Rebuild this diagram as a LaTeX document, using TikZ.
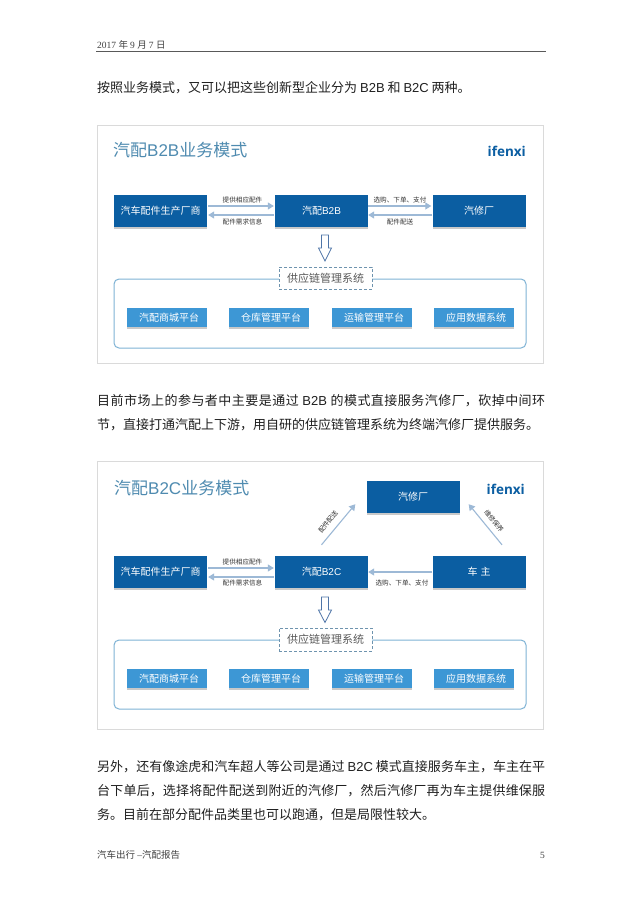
\documentclass[tikz,border=0pt]{standalone}
\usepackage{fontspec}
\usetikzlibrary{arrows.meta,calc}
\setmainfont{Noto Sans CJK SC}
\newfontfamily\lsf{Liberation Sans}
\newfontfamily\lser{Liberation Serif}
\newfontfamily\logof{Open Sans}
\XeTeXlinebreaklocale "zh"
\XeTeXlinebreakskip=0pt plus 1pt
\definecolor{bigblue}{HTML}{0B5EA2}
\definecolor{smallblue}{HTML}{3D97D5}
\definecolor{ringblue}{HTML}{7FB3D5}
\definecolor{flowblue}{HTML}{9DB9D6}
\definecolor{panelgray}{HTML}{DADADA}
\definecolor{titleblue}{HTML}{4F8BB0}
\definecolor{shade}{HTML}{C9C9C9}
\definecolor{hollow}{HTML}{4F75A8}
\definecolor{dashblue}{HTML}{6E93AE}
\tikzset{
  x=1pt,y=-1pt,
  panel/.style={draw=panelgray,line width=0.8pt,fill=white},
  bigbox/.style={fill=bigblue,text=white,minimum width=93pt,minimum height=32pt,inner sep=0pt,font=\fontsize{10}{12}\selectfont,
    preaction={fill=shade,transform canvas={yshift=-1.6pt}}},
  smallbox/.style={fill=smallblue,text=white,minimum width=80pt,minimum height=19pt,inner sep=0pt,font=\fontsize{10}{12}\selectfont,
    preaction={fill=shade,transform canvas={yshift=-1.6pt}}},
  ring/.style={draw=ringblue,line width=1pt,rounded corners=5pt},
  dashbox/.style={draw=dashblue,dash pattern=on 3pt off 2pt,fill=white,line width=0.9pt,minimum width=93pt,minimum height=22pt,inner sep=0pt,
    text=black!65,font=\fontsize{11}{13}\selectfont},
  flow/.style={draw=flowblue,line width=1.1pt,-{Triangle[length=6pt,width=7pt]}},
  lab/.style={inner sep=0pt,text=black!80,font=\fontsize{6.6}{8}\selectfont},
  title/.style={anchor=west,inner sep=0pt,text=titleblue,font=\fontsize{17}{20}\selectfont},
  logo/.style={anchor=east,inner sep=0pt,text=bigblue,font=\logof\bfseries\fontsize{13.5}{15}\selectfont},
  blockarrow/.style={draw=hollow,fill=white,line width=0.8pt,line join=miter},
  para/.style={anchor=north west,inner sep=0pt,text width=448pt,align=justify,text=black!88,font=\fontsize{13}{24}\selectfont},
  small/.style={inner sep=0pt,text=black!75,font=\fontsize{9.5}{11}\selectfont},
}
\begin{document}
\begin{tikzpicture}
\useasboundingbox[fill=white] (0,0) rectangle (640,907);
% page furniture
\node[small,anchor=west] (hdr) at (97,45) {\lser 2017 \rmfamily 年 \lser 9 \rmfamily 月 \lser 7 \rmfamily 日};
\coordinate (ruleL) at (96,52); \coordinate (ruleR) at (546,52);
\draw[black!65,line width=1pt] (ruleL) -- (ruleR);
\node[para,anchor=north west] (p1) at (97,81) {按照业务模式，又可以把这些创新型企业分为 {\lsf B2B} 和 {\lsf B2C} 两种。};
\node[para] (p2) at (97,394) {目前市场上的参与者中主要是通过 {\lsf B2B} 的模式直接服务汽修厂，砍掉中间环\linebreak 节，直接打通汽配上下游，用自研的供应链管理系统为终端汽修厂提供服务。};
\node[para] (p3) at (97,760) {另外，还有像途虎和汽车超人等公司是通过 {\lsf B2C} 模式直接服务车主，车主在平\linebreak 台下单后，选择将配件配送到附近的汽修厂，然后汽修厂再为车主提供维保服\linebreak 务。目前在部分配件品类里也可以跑通，但是局限性较大。};
\node[small,anchor=west] (ftr) at (97,855) {汽车出行 {\lser –}汽配报告};
\node[small,anchor=east] (pg) at (545,855) {\lser 5};

% ---------- B2B panel
\node[panel,minimum width=446pt,minimum height=238pt,inner sep=0pt] (pa) at (320,244) {};
\node[title] (ta) at (113,150) {汽配{\lsf B2B}业务模式};
\node[logo] (la) at (526,151) {ifenxi};
\node[bigbox] (a1) at (160.5,211) {汽车配件生产厂商};
\node[bigbox] (a2) at (321.5,211) {汽配{\lsf B2B}};
\node[bigbox] (a3) at (479,211) {汽修厂};
\draw[flow] ([yshift=5pt,xshift=1pt]a1.east) -- ([yshift=5pt,xshift=-1pt]a2.west);
\draw[flow] ([yshift=-4pt,xshift=-1pt]a2.west) -- ([yshift=-4pt,xshift=1pt]a1.east);
\draw[flow] ([yshift=5pt]a2.east) -- ([yshift=5pt,xshift=-1pt]a3.west);
\draw[flow] ([yshift=-4pt]a3.west) -- ([yshift=-4pt]a2.east);
\node[lab] (a12t) at (242.5,200) {提供相应配件};
\node[lab] (a12b) at (242.5,221.5) {配件需求信息};
\node[lab] (a23t) at (400,200) {选购、下单、支付};
\node[lab] (a23b) at (400,221.5) {配件配送};
\coordinate (da) at (325,235);
\draw[blockarrow] (da) ++(-3.5,0) -- ++(7,0) -- ++(0,13) -- ++(3,0) -- ++(-6.5,13) -- ++(-6.5,-13) -- ++(3,0) -- cycle;
\node[ring,minimum width=412pt,minimum height=69pt,inner sep=0pt] (ra) at (320,313.5) {};
\node[dashbox] (sa) at (325.5,278) {供应链管理系统};
\node[smallbox] (a4) at (167,317.5) {\hspace*{4pt}汽配商城平台};
\node[smallbox] (a5) at (269,317.5) {\hspace*{4pt}仓库管理平台};
\node[smallbox] (a6) at (372,317.5) {\hspace*{4pt}运输管理平台};
\node[smallbox] (a7) at (474,317.5) {\hspace*{4pt}应用数据系统};

% ---------- B2C panel
\node[panel,minimum width=446pt,minimum height=268pt,inner sep=0pt] (pb) at (320,595) {};
\node[title] (tb) at (114,488) {汽配{\lsf B2C}业务模式};
\node[logo] (lb) at (525,489) {ifenxi};
\node[bigbox] (b0) at (413,497) {汽修厂};
\node[bigbox] (b1) at (160.5,572) {汽车配件生产厂商};
\node[bigbox] (b2) at (321.5,572) {汽配{\lsf B2C}};
\node[bigbox] (b3) at (479,572) {车\hspace{3pt}主};
\draw[flow] ([yshift=4pt,xshift=1pt]b1.east) -- ([yshift=4pt,xshift=-1pt]b2.west);
\draw[flow] ([yshift=-5pt,xshift=-1pt]b2.west) -- ([yshift=-5pt,xshift=1pt]b1.east);
\draw[flow] (b3.west) -- (b2.east);
\draw[flow] ([yshift=11pt]b2.north) -- ([xshift=-11pt,yshift=9pt]b0.south west);
\draw[flow] ([xshift=23pt,yshift=11pt]b3.north) -- ([xshift=9pt,yshift=9pt]b0.south east);
\node[lab] (b12t) at (242.5,561.5) {提供相应配件};
\node[lab] (b12b) at (242.5,583) {配件需求信息};
\node[lab] (b23) at (402,583) {选购、下单、支付};
\node[lab,rotate=52] (bd1) at (328,522) {配件配送};
\node[lab,rotate=-52] (bd2) at (494,521) {维修保养};
\coordinate (db) at (325,597);
\draw[blockarrow] (db) ++(-3.5,0) -- ++(7,0) -- ++(0,13) -- ++(3,0) -- ++(-6.5,12.5) -- ++(-6.5,-12.5) -- ++(3,0) -- cycle;
\node[ring,minimum width=412pt,minimum height=69pt,inner sep=0pt] (rb) at (320,674.5) {};
\node[dashbox,minimum height=23pt] (sb) at (325.5,639.5) {供应链管理系统};
\node[smallbox] (b4) at (167,678.5) {\hspace*{4pt}汽配商城平台};
\node[smallbox] (b5) at (269,678.5) {\hspace*{4pt}仓库管理平台};
\node[smallbox] (b6) at (372,678.5) {\hspace*{4pt}运输管理平台};
\node[smallbox] (b7) at (474,678.5) {\hspace*{4pt}应用数据系统};
\end{tikzpicture}
\end{document}
